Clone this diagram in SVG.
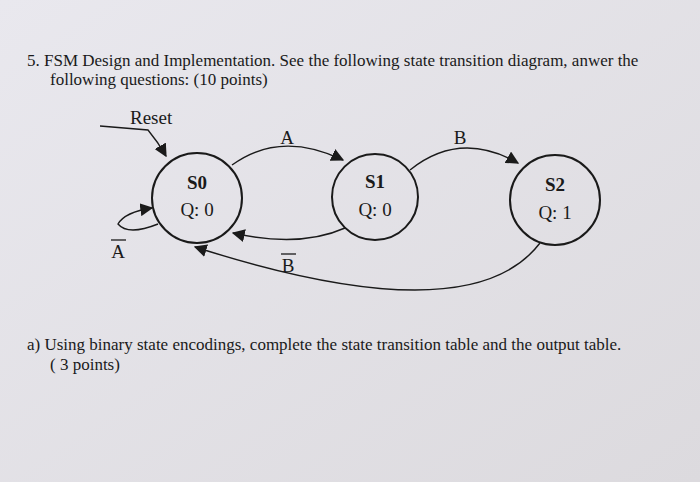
<svg xmlns="http://www.w3.org/2000/svg" width="700" height="482" viewBox="0 0 700 482">
<defs>
<linearGradient id="bg" x1="0" y1="0" x2="1" y2="1"><stop offset="0" stop-color="#e9e8ee"/><stop offset="1" stop-color="#dcdade"/></linearGradient>
<marker id="ar" viewBox="0 0 10 10" refX="9" refY="5" markerWidth="13" markerHeight="13" markerUnits="userSpaceOnUse" orient="auto"><path d="M0,0 L10,5 L0,10 z" fill="#1a1a1a"/></marker>
<style>text{font-family:"Liberation Serif",serif;fill:#1a1a1a}.t{font-size:17px}.s{font-size:19px}circle{fill:none;stroke:#1a1a1a;stroke-width:2}.c path{fill:none;stroke:#1a1a1a;stroke-width:1.4;marker-end:url(#ar)}</style>
</defs>
<rect width="700" height="482" fill="url(#bg)"/>
<text class="t" x="27" y="66">5.  FSM Design and Implementation. See the following state transition diagram, anwer the</text>
<text class="t" x="50" y="85">following questions: (10 points)</text>
<text class="s" x="130" y="124">Reset</text>
<g id="S0"><circle cx="197" cy="198" r="45"/><text class="s" x="197" y="189" text-anchor="middle" font-weight="bold">S0</text><text class="s" x="197" y="216" text-anchor="middle">Q: 0</text></g>
<g id="S1"><circle cx="375" cy="197" r="43"/><text class="s" x="375" y="188" text-anchor="middle" font-weight="bold">S1</text><text class="s" x="375" y="216" text-anchor="middle">Q: 0</text></g>
<g id="S2"><circle cx="555" cy="200" r="45"/><text class="s" x="555" y="191" text-anchor="middle" font-weight="bold">S2</text><text class="s" x="555" y="219" text-anchor="middle">Q: 1</text></g>
<g class="c">
<path d="M100,126 L148,130 Q158,142 166,156"/>
<path d="M232,165 Q280,130 343,160"/>
<path d="M410,170 Q460,130 518,163"/>
<path d="M345,228 Q300,248 233,233"/>
<path d="M540,243 Q470,335 195,247"/>
<path d="M158,224 Q128,236 118,224 Q125,212 152,208"/>
</g>
<text class="s" x="287" y="144" text-anchor="middle">A</text>
<text class="s" x="460" y="144" text-anchor="middle">B</text>
<text class="s" x="288" y="272" text-anchor="middle">B</text><line x1="281" y1="254" x2="296" y2="254" stroke="#1a1a1a" stroke-width="1.3"/>
<text class="s" x="118" y="258" text-anchor="middle">A</text><line x1="111" y1="240" x2="126" y2="240" stroke="#1a1a1a" stroke-width="1.3"/>
<text class="t" x="27" y="350">a)  Using binary state encodings, complete the state transition table and the output table.</text>
<text class="t" x="50" y="370">( 3 points)</text>
</svg>
